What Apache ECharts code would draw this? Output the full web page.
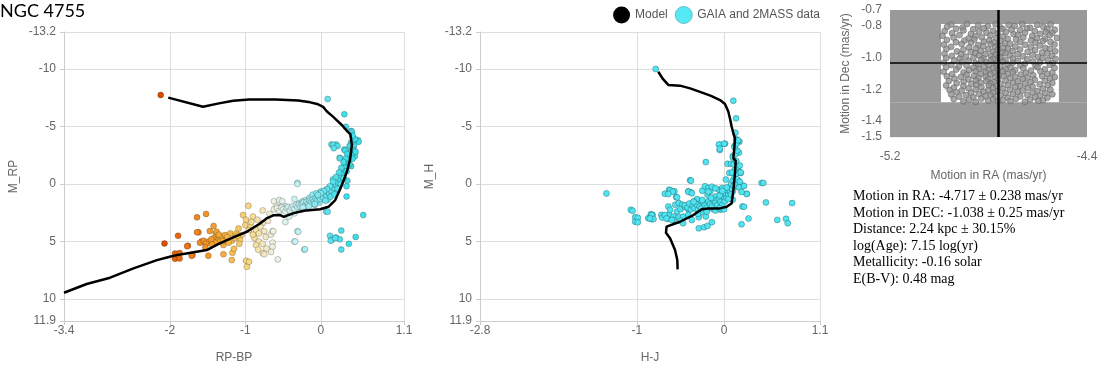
<!DOCTYPE html>
<html>
<head>
<meta charset="utf-8">
<script src="https://cdn.jsdelivr.net/npm/echarts@6/dist/echarts.min.js"></script>
<style>html,body{margin:0;padding:0;background:#fff}#c{width:1101px;height:372px}</style>
</head>
<body>
<div id="c"></div>
<script>
const chartTitle = 'NGC 4755';
const legendNames = ['Model', 'GAIA and 2MASS data'];
const axisNames = ['RP-BP', 'M_RP', 'H-J', 'M_H', 'Motion in RA (mas/yr)', 'Motion in Dec (mas/yr)'];
const ticksRPBP = [-3.4, -2, -1, 0, 1.1];
const ticksMag = [-13.2, -10, -5, 0, 5, 10, 11.9];
const ticksHJ = [-2.8, -1, 0, 1.1];
const ticksRA = [-5.2, -4.4];
const ticksDec = [-1.5, -1.4, -1.2, -1.0, -0.8, -0.7];
const motionCenter = [-4.757, -1.034];
const motionBox = [-4.993, -4.514, -0.788, -1.281];
const infoLines = [
  'Motion in RA: -4.717 \u00b1 0.238 mas/yr',
  'Motion in DEC: -1.038 \u00b1 0.25 mas/yr',
  'Distance: 2.24 kpc \u00b1 30.15%',
  'log(Age): 7.15 log(yr)',
  'Metallicity: -0.16 solar',
  'E(B-V): 0.48 mag'
];

const modelLeft = [[-2.02,-7.5],[-1.56,-6.71],[-1.35,-7.0],[-1.16,-7.23],[-0.95,-7.33],[-0.6,-7.34],[-0.3,-7.25],[-0.14,-7.09],[-0.05,-6.95],[0.03,-6.7],[0.08,-6.3],[0.16,-5.85],[0.28,-5.1],[0.36,-4.5],[0.39,-4.32],[0.41,-4.2],[0.41,-3.4],[0.4,-2.8],[0.385,-2.08],[0.35,-1.2],[0.32,-0.63],[0.25,0.53],[0.19,1.4],[0.10,1.98],[-0.01,2.2],[-0.12,2.25],[-0.23,2.33],[-0.37,2.55],[-0.45,2.75],[-0.49,2.86],[-0.54,2.7],[-0.63,2.72],[-0.72,2.99],[-0.81,3.45],[-0.98,4.15],[-1.16,4.64],[-1.34,5.16],[-1.51,5.74],[-1.78,6.03],[-1.91,6.18],[-2.0,6.32],[-2.17,6.61],[-2.48,7.33],[-2.79,8.14],[-3.1,8.69],[-3.4,9.45]];

const modelMid = [[-0.755,-9.75],[-0.70,-9.1],[-0.64,-8.6],[-0.506,-8.54],[-0.39,-8.3],[-0.276,-8.0],[-0.15,-7.65],[-0.047,-7.29],[0.01,-6.95],[0.048,-6.3],[0.07,-5.6],[0.087,-4.97],[0.11,-4.3],[0.125,-3.96],[0.13,-3.9],[0.117,-3.1],[0.106,-2.23],[0.133,-2.02],[0.125,-0.93],[0.106,0.53],[0.087,1.68],[0.03,1.98],[-0.047,2.12],[-0.124,2.12],[-0.14,2.22],[-0.18,2.12],[-0.257,2.2],[-0.353,2.7],[-0.506,3.28],[-0.66,3.71],[-0.667,4.24],[-0.62,4.72],[-0.563,5.74],[-0.537,6.61],[-0.533,7.42]];

const starsLeft = [[-2.12,-7.73],[-2.07,5.16],[-1.89,4.5],[-1.93,6.03],[-1.87,6.0],[-1.93,6.5],[-1.87,6.48],[-1.76,5.37],[-1.70,6.17],[-1.71,6.24],[-1.77,5.4],[-1.64,2.9],[-1.52,2.6],[-1.62,4.2],[-1.64,4.2],[-1.58,5.0],[-1.60,5.1],[-1.55,4.93],[-1.49,6.23],[-1.47,4.09],[-1.42,3.65],[-1.48,5.0],[-1.42,4.72],[-1.39,4.29],[-1.36,4.87],[-1.31,4.58],[-1.27,4.44],[-1.25,4.87],[-1.29,5.3],[-1.29,6.1],[-1.2,4.29],[-1.18,4.93],[-1.17,5.97],[-1.15,5.63],[-1.18,6.61],[-1.12,4.29],[-1.09,3.86],[-1.05,4.44],[-1.03,2.7],[-1.0,3.57],[-0.99,6.67],[-0.98,7.19],[-1.07,4.87],[-1.38,4.15],[-1.33,4.7],[-1.34,5.0],[-1.40,5.1],[-1.45,4.8],[-1.35,4.4],[-1.24,4.6],[-1.22,5.1],[-1.14,4.7],[-1.10,4.5],[-1.08,5.2],[-1.30,4.95],[-1.44,5.25],[-1.52,5.2],[-1.53,5.5],
[-0.96,1.9],[-0.77,2.3],[-0.99,3.1],[-0.9,2.83],[-0.84,3.1],[-0.77,3.4],[-0.93,3.7],[-0.86,4.0],[-0.82,4.3],[-0.75,4.1],[-0.73,4.6],[-0.66,4.4],[-0.64,4.1],[-0.88,4.7],[-0.82,5.0],[-0.86,5.3],[-0.77,5.2],[-0.64,5.1],[-0.64,5.45],[-0.66,5.9],[-0.77,6.0],[-0.75,6.1],[-0.95,6.75],[-0.57,6.55],[-0.62,1.5],[-0.55,1.4],[-0.51,1.5],[-0.59,1.95],[-0.53,2.0],[-0.46,1.95],[-0.48,2.25],[-0.42,2.25],[-0.37,2.2],[-0.35,1.3],[-0.31,-0.1],[-0.35,2.55],[-0.42,2.83],[-0.47,3.3],[-0.63,4.1],[-0.31,4.1],[-0.35,5.0],[-0.22,5.7],[-0.30,4.15],[-0.34,5.0],[-0.21,5.68],[-0.92,3.3],[-0.95,4.0],[-0.9,4.4],[-0.8,3.7],[-0.7,3.2],[-0.68,2.6],[-0.72,5.6],[-0.83,5.7],
[-0.28,1.66],[-0.24,1.5],[-0.2,1.4],[-0.15,1.2],[-0.11,0.93],[-0.06,0.8],[-0.26,2.25],[-0.17,1.95],[-0.08,1.8],[-0.02,1.6],[-0.04,1.15],[0.04,1.2],[0.0,0.65],[0.07,0.5],[0.09,1.37],[0.12,0.93],[0.16,0.2],[0.18,0.64],[0.16,-0.4],[0.2,-0.23],[0.25,-0.8],[0.23,0.06],[0.27,-0.52],[0.29,-0.96],[0.31,-1.4],[0.34,-1.83],[0.36,-2.27],[0.38,-2.7],[0.43,-3.15],[0.4,-1.55],[0.45,-2.4],[0.34,0.2],[0.34,1.08],[0.07,2.4],[0.14,-3.44],[0.2,-3.44],[0.31,-3.0],[0.4,-4.6],[0.49,-3.8],[0.25,-2.27],[0.56,2.7],[0.12,4.5],[0.27,4.05],[0.2,4.64],[0.25,4.8],[0.14,4.87],[0.37,5.2],[0.46,4.6],[0.27,5.7],[0.09,-7.38],[0.31,-6.05],[0.33,-4.97],[0.41,-4.54],[0.50,-3.67],[0.16,-3.4],[0.22,-3.3],[0.17,-3.1],[0.32,-2.9],[0.25,-2.23],[0.35,-0.28],[0.09,2.41],[-0.31,0.0],[0.13,4.93],[0.19,4.7],
[-0.62,2.2],[-0.58,2.1],[-0.55,2.35],[-0.52,2.05],[-0.5,2.2],[-0.47,2.4],[-0.45,2.1],[-0.43,2.0],[-0.41,2.3],[-0.39,2.05],[-0.37,1.9],[-0.35,2.15],[-0.33,1.85],[-0.31,2.0],[-0.29,1.8],[-0.27,1.95],[-0.25,1.75],[-0.23,1.6],[-0.21,1.85],[-0.19,1.55],[-0.17,1.7],[-0.15,1.45],[-0.13,1.6],[-0.11,1.35],[-0.09,1.5],[-0.07,1.25],[-0.05,1.4],[-0.03,1.1],[-0.01,1.3],[0.01,1.0],[0.03,1.15],[0.05,0.85],[0.07,1.0],[0.09,0.7],[0.11,0.85],[0.12,0.45],[0.14,0.6],[0.15,0.2],[0.17,0.35],[0.18,-0.05],[0.2,0.1],[0.21,-0.35],[0.22,-0.15],[0.24,-0.6],[0.25,-0.4],[0.26,-0.9],[0.27,-0.7],[0.28,-1.15],[0.29,-1.0],[0.3,-1.45],[0.31,-1.25],[0.32,-1.7],[0.33,-1.55],[0.34,-2.0],[0.35,-1.85],[0.36,-2.3],[0.37,-2.1],[0.38,-2.55],[0.39,-2.4],[0.4,-2.85],[0.41,-2.65],[0.42,-3.1],[0.43,-2.95],[0.44,-3.4],[0.4,-3.6],[0.45,-3.9],[0.42,-4.2],[0.38,-3.3],[0.35,-2.6],[0.33,-2.2],[0.3,-1.9],[0.27,-1.4],[0.24,-1.0],[0.2,-0.6],[0.16,-0.2],[0.12,0.2],[0.08,0.45],[0.04,0.6],[0.0,0.8],[-0.04,0.95],[0.22,0.4],[0.26,0.0],[0.3,-0.5],[0.34,-1.1],[0.38,-1.7],[0.42,-2.2],[0.46,-2.8],[0.13,1.1],[0.18,0.9],[0.06,1.45],[-0.08,1.75],[-0.16,1.95],[-0.24,2.05]];

const starsMid = [[-0.785,-9.99],[0.106,-7.23],[0.137,-5.7],[0.175,-3.67],[-0.05,-3.4],[0.01,-3.5],[-0.05,-2.95],[-0.21,-1.9],
[-1.35,0.82],[-1.07,2.24],[-1.02,2.89],[-1.02,3.27],[-0.84,2.62],[-0.87,2.97],[-0.83,3.06],[-0.82,2.68],[-0.72,2.68],[-0.71,2.92],[-0.65,3.03],[-0.63,2.68],[-0.68,0.85],[-0.63,0.5],[-0.57,0.64],[-0.55,1.14],[-0.64,1.95],[-0.56,1.8],[-0.52,1.66],[-0.48,1.8],[-0.62,2.24],[-0.54,2.39],[-0.5,2.19],[-0.45,2.0],[-0.41,2.19],[-0.58,2.83],[-0.52,2.89],[-0.47,2.83],[-0.41,2.68],[-0.58,3.12],[-0.5,3.18],[-0.47,3.41],[-0.39,-0.32],[-0.41,0.64],[-0.38,0.73],[-0.31,1.31],[-0.35,1.52],[-0.31,1.95],[-0.27,1.66],[-0.25,0.58],[-0.22,0.2],[-0.18,0.35],[-0.19,0.93],[-0.16,0.64],[-0.14,1.37],[-0.1,1.08],[-0.06,0.5],[-0.04,0.93],[-0.02,0.35],[-0.08,1.66],[-0.29,3.85],[-0.23,3.76],[-0.19,3.64],[-0.14,3.32],[-0.37,3.12],[-0.29,2.89],[-0.21,2.83],[-0.27,2.48],[-0.19,2.24],[-0.12,2.19],[-0.04,2.24],[-0.06,-3.44],[0.0,-3.5],[-0.05,-3.06],[0.02,-0.38],[0.06,-0.96],[0.04,-1.75],[0.08,-1.75],[0.1,-2.42],[0.14,-3.88],[0.16,-3.73],[0.17,-2.71],[0.16,-1.25],[0.19,-0.96],[0.17,-0.23],[0.14,0.2],[0.1,0.64],[0.1,1.37],[0.21,1.95],[0.26,0.85],[0.22,0.15],[0.28,3.0],[0.2,3.5],[0.43,-0.09],[0.45,-0.09],[0.48,1.6],[0.61,3.12],[0.71,3.03],[0.73,3.41],[0.78,1.66],[0.12,-3.3],[0.13,-4.46],[0.228,0.18],[0.26,0.87],[0.228,1.98],[-0.38,-0.28],[-0.62,0.53],[-0.59,0.67],[-0.64,0.87],[-0.54,1.16],[-0.41,0.67],[-0.37,0.81],[-0.18,0.67],[-0.14,0.24],[-0.1,0.38],[-1.05,2.33],[-0.99,2.93],[-0.99,3.33],[-0.83,2.7],[-0.81,3.05],[-0.85,2.99],[-0.68,2.7],[-0.66,2.99],[-0.6,3.13],
[-0.45,1.85],[-0.42,2.05],[-0.4,1.7],[-0.38,2.2],[-0.36,1.9],[-0.34,2.1],[-0.32,1.75],[-0.3,2.25],[-0.28,1.95],[-0.26,2.1],[-0.24,1.6],[-0.22,1.85],[-0.2,2.05],[-0.18,1.5],[-0.16,1.75],[-0.14,1.95],[-0.12,1.4],[-0.1,1.65],[-0.08,1.85],[-0.06,1.3],[-0.04,1.55],[-0.02,1.8],[0.0,1.2],[0.01,1.5],[0.02,0.9],[0.03,1.2],[0.04,0.6],[0.05,0.95],[0.06,0.3],[0.07,0.7],[0.08,0.0],[0.09,0.4],[0.1,-0.3],[0.11,0.15],[0.12,-0.6],[0.13,-0.1],[0.14,-0.9],[0.15,-0.4],[0.12,-1.2],[0.16,-1.5],[0.11,-1.7],[0.14,-2.0],[0.1,-2.3],[0.13,-2.6],[0.15,-2.9],[0.12,-3.2],[0.14,-3.5],[0.16,-3.8],[0.18,-0.2],[0.17,0.3],[0.2,0.7],[0.05,1.3],[-0.05,1.0],[-0.15,1.2],[-0.25,1.4],[-0.35,1.55],[-0.3,2.6],[-0.2,2.4],[-0.1,2.3],[-0.05,2.1],[0.0,2.2],[0.19,-1.0],[0.18,-1.6],[0.09,-1.0],[0.08,0.9],[0.03,0.3],[-0.02,0.6]];

const motionStars = [
[-4.951,-0.792],[-4.887,-0.788],[-4.842,-0.797],[-4.771,-0.790],[-4.718,-0.795],[-4.663,-0.789],[-4.602,-0.794],[-4.548,-0.791],
[-4.968,-0.806],[-4.905,-0.811],[-4.803,-0.803],[-4.752,-0.809],[-4.694,-0.801],[-4.631,-0.812],[-4.577,-0.806],
[-4.931,-0.818],[-4.862,-0.822],[-4.819,-0.815],[-4.743,-0.820],[-4.706,-0.824],[-4.644,-0.816],[-4.561,-0.819],[-4.531,-0.825],
[-4.978,-0.833],[-4.902,-0.829],[-4.838,-0.836],[-4.781,-0.831],[-4.729,-0.838],[-4.672,-0.828],[-4.612,-0.834],[-4.568,-0.839],
[-4.948,-0.846],[-4.871,-0.851],[-4.808,-0.843],[-4.763,-0.848],[-4.698,-0.852],[-4.652,-0.844],[-4.589,-0.849],[-4.541,-0.845],
[-4.987,-0.862],[-4.918,-0.858],[-4.853,-0.865],[-4.792,-0.860],[-4.741,-0.867],[-4.681,-0.857],[-4.622,-0.863],[-4.552,-0.859],
[-4.942,-0.874],[-4.881,-0.879],[-4.827,-0.872],[-4.768,-0.877],[-4.722,-0.881],[-4.659,-0.873],[-4.603,-0.878],[-4.571,-0.882],[-4.522,-0.876],
[-4.969,-0.889],[-4.898,-0.893],[-4.858,-0.886],[-4.797,-0.891],[-4.751,-0.895],[-4.688,-0.887],[-4.628,-0.892],[-4.579,-0.896],
[-4.932,-0.903],[-4.871,-0.907],[-4.819,-0.900],[-4.778,-0.905],[-4.733,-0.909],[-4.671,-0.901],[-4.609,-0.906],[-4.548,-0.902],
[-4.981,-0.918],[-4.909,-0.914],[-4.842,-0.921],[-4.791,-0.916],[-4.761,-0.922],[-4.712,-0.913],[-4.651,-0.919],[-4.592,-0.924],[-4.532,-0.917],
[-4.952,-0.932],[-4.879,-0.936],[-4.821,-0.929],[-4.772,-0.934],[-4.739,-0.938],[-4.691,-0.930],[-4.628,-0.935],[-4.569,-0.939],
[-4.971,-0.946],[-4.902,-0.950],[-4.851,-0.943],[-4.801,-0.948],[-4.762,-0.952],[-4.721,-0.944],[-4.672,-0.949],[-4.611,-0.953],[-4.551,-0.945],
[-4.928,-0.961],[-4.872,-0.965],[-4.831,-0.958],[-4.781,-0.963],[-4.742,-0.967],[-4.703,-0.959],[-4.641,-0.964],[-4.582,-0.968],[-4.529,-0.960],
[-4.979,-0.975],[-4.911,-0.979],[-4.853,-0.972],[-4.812,-0.977],[-4.772,-0.981],[-4.731,-0.973],[-4.682,-0.978],[-4.621,-0.982],[-4.561,-0.974],
[-4.949,-0.989],[-4.892,-0.993],[-4.838,-0.986],[-4.789,-0.991],[-4.758,-0.995],[-4.712,-0.987],[-4.661,-0.992],[-4.598,-0.996],[-4.542,-0.988],
[-4.972,-1.003],[-4.918,-1.007],[-4.861,-1.000],[-4.821,-1.005],[-4.782,-1.009],[-4.751,-1.001],[-4.701,-1.006],[-4.642,-1.010],[-4.581,-1.002],[-4.528,-1.008],
[-4.939,-1.018],[-4.881,-1.022],[-4.829,-1.015],[-4.792,-1.020],[-4.763,-1.024],[-4.731,-1.016],[-4.681,-1.021],[-4.619,-1.025],[-4.558,-1.017],
[-4.981,-1.032],[-4.908,-1.028],[-4.852,-1.035],[-4.808,-1.030],[-4.771,-1.037],[-4.742,-1.027],[-4.702,-1.033],[-4.652,-1.038],[-4.591,-1.031],[-4.539,-1.036],
[-4.951,-1.046],[-4.889,-1.050],[-4.841,-1.043],[-4.798,-1.048],[-4.769,-1.052],[-4.722,-1.044],[-4.671,-1.049],[-4.609,-1.053],[-4.551,-1.045],
[-4.972,-1.061],[-4.921,-1.057],[-4.862,-1.064],[-4.819,-1.059],[-4.781,-1.066],[-4.752,-1.056],[-4.711,-1.062],[-4.659,-1.067],[-4.601,-1.060],[-4.532,-1.065],
[-4.931,-1.075],[-4.879,-1.079],[-4.838,-1.072],[-4.801,-1.077],[-4.762,-1.081],[-4.731,-1.073],[-4.692,-1.078],[-4.628,-1.082],[-4.571,-1.074],
[-4.982,-1.089],[-4.901,-1.093],[-4.852,-1.086],[-4.812,-1.091],[-4.778,-1.095],[-4.741,-1.087],[-4.702,-1.092],[-4.648,-1.096],[-4.589,-1.088],[-4.541,-1.094],
[-4.948,-1.104],[-4.889,-1.108],[-4.832,-1.101],[-4.791,-1.106],[-4.759,-1.110],[-4.721,-1.102],[-4.669,-1.107],[-4.619,-1.111],[-4.561,-1.103],
[-4.969,-1.118],[-4.912,-1.122],[-4.859,-1.115],[-4.811,-1.120],[-4.772,-1.124],[-4.739,-1.116],[-4.691,-1.121],[-4.642,-1.125],[-4.582,-1.117],[-4.531,-1.123],
[-4.938,-1.132],[-4.882,-1.136],[-4.841,-1.129],[-4.801,-1.134],[-4.761,-1.138],[-4.712,-1.130],[-4.661,-1.135],[-4.612,-1.139],[-4.551,-1.131],
[-4.961,-1.147],[-4.901,-1.151],[-4.851,-1.144],[-4.809,-1.149],[-4.779,-1.153],[-4.731,-1.145],[-4.681,-1.150],[-4.629,-1.154],[-4.571,-1.146],
[-4.929,-1.161],[-4.869,-1.165],[-4.832,-1.158],[-4.791,-1.163],[-4.752,-1.167],[-4.701,-1.159],[-4.652,-1.164],[-4.592,-1.168],[-4.541,-1.160],
[-4.972,-1.175],[-4.902,-1.179],[-4.849,-1.172],[-4.799,-1.177],[-4.768,-1.181],[-4.721,-1.173],[-4.672,-1.178],[-4.621,-1.182],[-4.559,-1.174],
[-4.941,-1.189],[-4.881,-1.193],[-4.829,-1.186],[-4.782,-1.191],[-4.741,-1.195],[-4.691,-1.187],[-4.641,-1.192],[-4.579,-1.196],
[-4.958,-1.204],[-4.909,-1.208],[-4.852,-1.201],[-4.801,-1.206],[-4.762,-1.210],[-4.712,-1.202],[-4.661,-1.207],[-4.602,-1.211],[-4.549,-1.203],
[-4.931,-1.218],[-4.871,-1.222],[-4.821,-1.215],[-4.781,-1.220],[-4.731,-1.224],[-4.682,-1.216],[-4.621,-1.221],[-4.569,-1.225],
[-4.951,-1.232],[-4.891,-1.236],[-4.839,-1.229],[-4.792,-1.234],[-4.751,-1.238],[-4.701,-1.230],[-4.642,-1.235],[-4.591,-1.239],[-4.541,-1.231],
[-4.919,-1.246],[-4.862,-1.250],[-4.812,-1.243],[-4.771,-1.248],[-4.722,-1.252],[-4.671,-1.244],[-4.611,-1.249],[-4.561,-1.253],
[-4.941,-1.261],[-4.879,-1.265],[-4.829,-1.258],[-4.781,-1.263],[-4.742,-1.267],[-4.689,-1.259],[-4.631,-1.264],[-4.579,-1.268],
[-4.902,-1.275],[-4.852,-1.279],[-4.801,-1.272],[-4.761,-1.277],[-4.711,-1.274],[-4.652,-1.278],[-4.598,-1.273]
];

const GRAY = '#666';
const FONT = '"Liberation Sans", Arial, sans-serif';
const lbl = {color: GRAY, fontSize: 12, fontFamily: FONT};
const nameStyle = {color: GRAY, fontSize: 12, fontFamily: FONT};

function xAx(idx, ticks, name, gridIdx) {
  return {
    type: 'value', gridIndex: gridIdx, min: ticks[0], max: ticks[ticks.length - 1],
    name: name, nameLocation: 'middle', nameGap: 31, nameTextStyle: nameStyle,
    axisLine: {show: true, onZero: false, lineStyle: {color: '#ccc'}},
    axisTick: {show: true, length: 4, customValues: ticks, lineStyle: {color: '#ccc'}},
    axisLabel: Object.assign({customValues: ticks, margin: 4}, lbl),
    splitLine: {show: true, lineStyle: {color: '#ddd'}}
  };
}
function yAx(ticks, name, gridIdx) {
  return {
    type: 'value', gridIndex: gridIdx, inverse: true, min: ticks[0], max: ticks[ticks.length - 1],
    name: name, nameLocation: 'middle', nameGap: 44, nameTextStyle: nameStyle,
    axisLine: {show: true, onZero: false, lineStyle: {color: '#ccc'}},
    axisTick: {show: true, length: 4, customValues: ticks, lineStyle: {color: '#ccc'}},
    axisLabel: Object.assign({customValues: ticks, margin: 8}, lbl),
    splitLine: {show: true, lineStyle: {color: '#ddd'}}
  };
}

const [bx0, bx1, by0, by1] = motionBox;
const chart = echarts.init(document.getElementById('c'), null, {renderer: 'canvas'});
chart.setOption({
  animation: false,
  backgroundColor: '#fff',
  title: {text: chartTitle, left: 0, top: 2, padding: 0,
    textStyle: {fontFamily: 'Lato', fontSize: 18, fontWeight: 'normal', color: '#000'}},
  legend: {
    right: 281, top: 6, padding: 0, itemWidth: 17, itemHeight: 17, itemGap: 7,
    textStyle: {fontSize: 12, color: '#555', fontFamily: FONT},
    data: [
      {name: legendNames[0], icon: 'circle', itemStyle: {color: '#000'}},
      {name: legendNames[1], icon: 'circle', itemStyle: {color: '#55e8f5', borderColor: '#6bbfc8', borderWidth: 1}}
    ]
  },
  grid: [
    {left: 64, top: 32, width: 340, height: 289},
    {left: 480, top: 32, width: 340, height: 289},
    {left: 890, top: 10, width: 197, height: 127}
  ],
  xAxis: [
    xAx(0, ticksRPBP, axisNames[0], 0),
    xAx(1, ticksHJ, axisNames[2], 1),
    {type: 'value', gridIndex: 2, min: ticksRA[0], max: ticksRA[1],
      name: axisNames[4], nameLocation: 'middle', nameGap: 33, nameTextStyle: nameStyle,
      axisLine: {show: false, onZero: false}, axisTick: {show: false, customValues: ticksRA},
      axisLabel: Object.assign({customValues: ticksRA, margin: 14}, lbl),
      splitLine: {show: false}}
  ],
  yAxis: [
    yAx(ticksMag, axisNames[1], 0),
    yAx(ticksMag, axisNames[3], 1),
    {type: 'value', gridIndex: 2, min: ticksDec[0], max: ticksDec[ticksDec.length - 1],
      name: axisNames[5], nameLocation: 'middle', nameGap: 38, nameTextStyle: nameStyle,
      axisLine: {show: false, onZero: false}, axisTick: {show: false, customValues: ticksDec},
      axisLabel: Object.assign({customValues: ticksDec, margin: 8, formatter: v => v.toFixed(1)}, lbl),
      splitLine: {show: true, lineStyle: {color: '#eee'}}}
  ],
  visualMap: [{
    show: false, type: 'continuous', seriesIndex: 1, dimension: 0, min: -2.1, max: 0.35,
    inRange: {color: ['#d64b00', '#e86a12', '#f08a22', '#f5a532', '#f7c459', '#f6e0a0', '#eef0e0', '#d2f3f3', '#98ebf1', '#5de2ed', '#3edce9']}
  }],
  series: [
    {name: legendNames[1], type: 'scatter', xAxisIndex: 1, yAxisIndex: 1, data: starsMid, symbolSize: 6, z: 2,
      itemStyle: {color: '#50e4f0', borderColor: 'rgba(0,60,70,0.55)', borderWidth: 0.6, opacity: 1}},
    {name: legendNames[1], type: 'scatter', xAxisIndex: 0, yAxisIndex: 0, data: starsLeft, symbolSize: 6, z: 2,
      itemStyle: {borderColor: 'rgba(0,0,0,0.35)', borderWidth: 0.6, opacity: 1}},
    {name: legendNames[0], type: 'line', xAxisIndex: 0, yAxisIndex: 0, data: modelLeft, showSymbol: false, z: 3,
      lineStyle: {color: '#000', width: 2.5}, itemStyle: {color: '#000'}},
    {name: legendNames[0], type: 'line', xAxisIndex: 1, yAxisIndex: 1, data: modelMid, showSymbol: false, z: 3,
      lineStyle: {color: '#000', width: 2.5}, itemStyle: {color: '#000'}},
    {name: 'bg', type: 'line', xAxisIndex: 2, yAxisIndex: 2, data: [], z: 1, silent: true,
      markArea: {silent: true, itemStyle: {color: '#999', opacity: 1}, data: [
        [{coord: [ticksRA[0], ticksDec[5]]}, {coord: [ticksRA[1], by0]}],
        [{coord: [ticksRA[0], by1]}, {coord: [ticksRA[1], ticksDec[0]]}],
        [{coord: [ticksRA[0], by0]}, {coord: [bx0, by1]}],
        [{coord: [bx1, by0]}, {coord: [ticksRA[1], by1]}]
      ]}},
    {name: 'motion', type: 'scatter', xAxisIndex: 2, yAxisIndex: 2, data: motionStars, symbolSize: 6, z: 2,
      itemStyle: {color: '#919191', borderColor: '#666', borderWidth: 0.7}},
    {name: 'lines', type: 'line', xAxisIndex: 2, yAxisIndex: 2, data: [], z: 5, silent: true,
      markLine: {silent: true, symbol: 'none', label: {show: false}, animation: false, data: [
        {xAxis: motionCenter[0], lineStyle: {color: '#000', width: 2.5, type: 'solid'}},
        {yAxis: motionCenter[1], lineStyle: {color: '#000', width: 1.5, type: 'solid'}}
      ]}}
  ],
  graphic: [{
    type: 'text', left: 853, top: 188,
    style: {text: infoLines.join('\n'), font: '14px "Liberation Serif", "Times New Roman", serif', lineHeight: 16.6, fill: '#000'}
  }]
});
</script>
</body>
</html>
